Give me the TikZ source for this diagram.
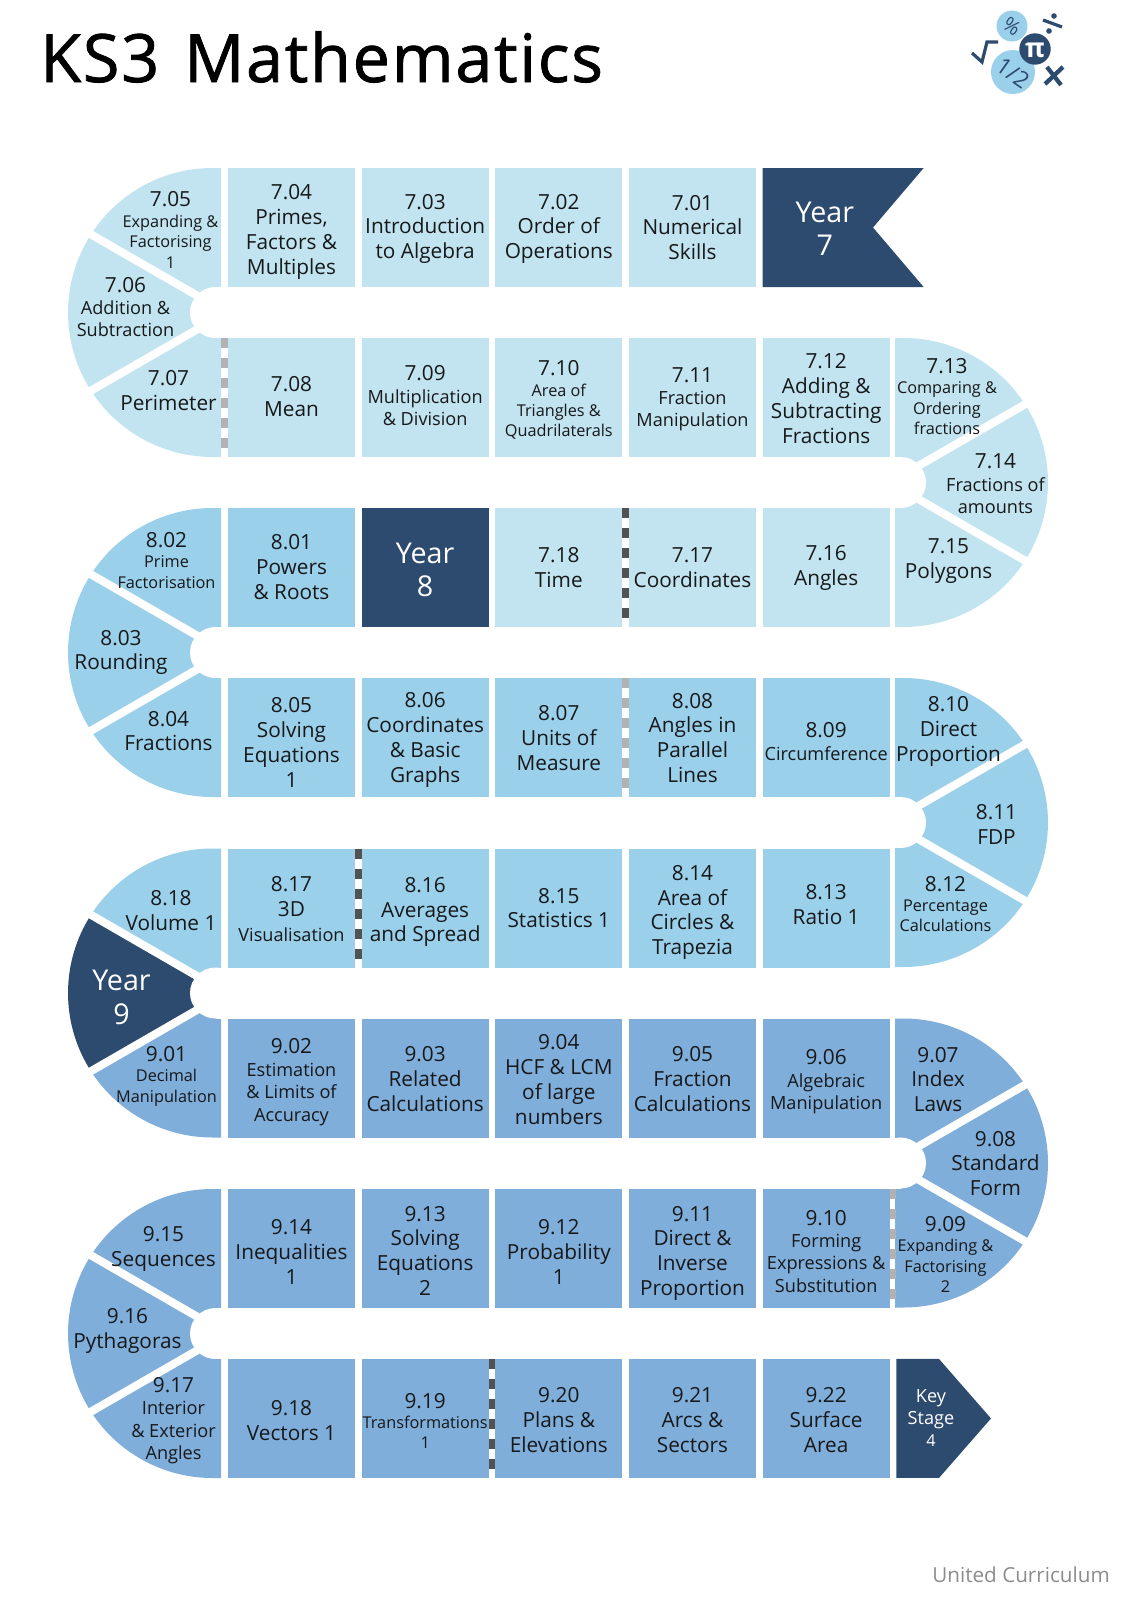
\documentclass[tikz,border=0pt]{standalone}
\usepackage{fontspec}
\setmainfont{Open Sans}
\newfontfamily\titlefont{Open Sans}[LetterSpace=2.5,RawFeature={embolden=1.2}]
\usepackage{xcolor}
\usetikzlibrary{arrows.meta,positioning,calc}
\definecolor{KSlight}{HTML}{C2E4F0}
\definecolor{KSmid}{HTML}{9BD0EB}
\definecolor{KSblue}{HTML}{80AEDA}
\definecolor{KSnavy}{HTML}{2D4A6F}
\definecolor{KSink}{HTML}{16181A}
\newcommand{\mdtxt}{\fontsize{13.6}{16.5}\selectfont}
\newcommand{\smtxt}{\fontsize{12.2}{15}\selectfont}
\newcommand{\yrtxt}{\fontsize{21.5}{25}\selectfont}
\newcommand{\mdline}{\\[-1.8pt]\mdtxt}
\newcommand{\smline}{\\[-3.3pt]\smtxt}
% pushes a box text down (first line) or up (last line)
\newcommand{\dn}[1]{\rule{0pt}{\dimexpr11.14pt+#1pt\relax}}
\newcommand{\up}[1]{\rule[-#1pt]{0pt}{#1pt}}
% #1 centre x, #2 centre y, #3 side (1 left, -1 right), #4 #5 #6 colours top to bottom
\newcommand{\pathcap}[6]{
  \begin{scope}[shift={(#1,-#2)}, xscale=#3]
    \fill[#4] (8.5,8) -- (8.5,144.5) -- (0,144.5) arc (90:147.3:144.5) -- (0,8) -- cycle;
    \fill[#5] (0,8) -- (147.3:144.5) arc (147.3:212.7:144.5) -- (0,-8) -- cycle;
    \fill[#6] (8.5,-8) -- (8.5,-144.5) -- (0,-144.5) arc (270:212.7:144.5) -- (0,-8) -- cycle;
    \draw[white, line width=6pt] (0,8) -- +(150:155);
    \draw[white, line width=6pt] (0,-8) -- +(210:155);
    \fill[white] (3,0) circle (25.5);
    \fill[white] (3,-25.5) rectangle (9,25.5);
  \end{scope}
}
\begin{document}
\begin{tikzpicture}[
    x=0.75pt, y=0.75pt,
    node distance=38.35pt and 5pt,
    box/.style={minimum width=95.25pt, minimum height=89.25pt, inner sep=0pt, outer sep=0pt, align=center, text=KSink, font=\fontsize{15.6}{18.6}\selectfont},
    lbl/.style={inner sep=0pt, align=center, text=KSink, font=\fontsize{15.6}{18.6}\selectfont},
    yr/.style={inner sep=0pt, align=center, text=white, font=\yrtxt},
    grayline/.style={draw=black!30, line width=5.2pt, dash pattern=on 7.5pt off 7.5pt},
    darkline/.style={draw=black!68, line width=5.2pt, dash pattern=on 7.5pt off 7.5pt},
    logoline/.style={draw=KSnavy, line width=2.4pt}
]
    \useasboundingbox (0,0) rectangle (1125,-1600);
    \node[anchor=west, inner sep=0pt, text=black, font=\titlefont\fontsize{50}{56}\selectfont] (title) at (40,-57) {KS3\hspace{4.5pt} Mathematics};
    \node[anchor=east, inner sep=0pt, text=black!45, font=\fontsize{15.5}{18}\selectfont] (credit) at (1110,-1575) {United Curriculum};

    % logo
    \fill[KSmid] (1012,-26) circle (15.5);
    \fill[KSmid] (1013,-72) circle (22);
    \fill[KSnavy] (1035,-49) circle (15.7);
    \node[rotate=-35, inner sep=0pt, text=KSnavy, font=\fontsize{15}{15}\selectfont] (pct) at (1012,-26) {\%};
    \node[inner sep=0pt, text=white, font=\fontsize{20}{20}\selectfont\bfseries] (pi) at (1035,-50) {π};
    \node[rotate=-35, inner sep=0pt, text=KSnavy, font=\fontsize{17}{17}\selectfont] (half) at (1013,-73) {1/2};
    \draw[logoline] (972,-53) -- (982,-62) -- (987,-42) -- (998,-42);
    \draw[logoline] (1043,-20) -- (1062,-27);
    \fill[KSnavy] (1054,-16) circle (2.8);
    \fill[KSnavy] (1049,-31) circle (2.8);
    \draw[logoline, line width=3.2pt] (1047,-67) -- (1061,-85);
    \draw[logoline, line width=3.2pt] (1063,-67) -- (1045,-84);

    % curved ends
    \pathcap{212.5}{312.5}{1}{KSlight}{KSlight}{KSlight}
    \pathcap{903.5}{482.5}{-1}{KSlight}{KSlight}{KSlight}
    \pathcap{212.5}{652.5}{1}{KSmid}{KSmid}{KSmid}
    \pathcap{903.5}{822.5}{-1}{KSmid}{KSmid}{KSmid}
    \pathcap{212.5}{993}{1}{KSmid}{KSnavy}{KSblue}
    \pathcap{903.5}{1163}{-1}{KSblue}{KSblue}{KSblue}
    \pathcap{212.5}{1333.5}{1}{KSblue}{KSblue}{KSblue}

    % row 1
    \node[box, fill=KSlight] (t704) at (291.5,-227.5) {\dn{6.9}7.04\\Primes,\\Factors \&\\Multiples};
    \node[box, fill=KSlight, right=of t704] (t703) {\dn{2.3}7.03\\Introduction\\to Algebra};
    \node[box, fill=KSlight, right=of t703] (t702) {\dn{2.3}7.02\\Order of\\Operations};
    \node[box, fill=KSlight, right=of t702] (t701) {7.01\\Numerical\\Skills};
    \node[box, right=of t701] (yr7) {};
    \fill[KSnavy] (yr7.north west) -- ([xshift=25.5pt]yr7.north east) -- ([xshift=-12.5pt]yr7.east) -- ([xshift=25.5pt]yr7.south east) -- (yr7.south west) -- cycle;
    \node[yr, xshift=-1pt, yshift=-1pt] (yr7txt) at (yr7) {Year\\7};

    % row 2
    \node[box, fill=KSlight, below=of t704] (t708) {7.08\\Mean\up{2.3}};
    \node[box, fill=KSlight, right=of t708] (t709) {7.09\mdline Multiplication\mdline \& Division\up{3}};
    \node[box, fill=KSlight, right=of t709] (t710) {\dn{3.8}7.10\smline Area of\smline Triangles \&\smline Quadrilaterals};
    \node[box, fill=KSlight, right=of t710] (t711) {\dn{2.3}7.11\mdline Fraction\mdline Manipulation};
    \node[box, fill=KSlight, right=of t711] (t712) {\dn{1.5}7.12\\Adding \&\\Subtracting\\Fractions};

    % row 3
    \node[box, fill=KSmid, below=of t708] (t801) {8.01\\Powers\\\& Roots\up{1.5}};
    \node[box, fill=KSnavy, right=of t801, text=white, font=\yrtxt] (yr8) {\rule{0pt}{19pt}Year\\8};
    \node[box, fill=KSlight, right=of yr8] (t718) {7.18\\Time};
    \node[box, fill=KSlight, right=of t718] (t717) {7.17\\Coordinates};
    \node[box, fill=KSlight, right=of t717] (t716) {7.16\\Angles};

    % row 4
    \node[box, fill=KSmid, below=of t801] (t805) {\dn{6.9}8.05\\Solving\\Equations\\1};
    \node[box, fill=KSmid, right=of t805] (t806) {\dn{3}8.06\\Coordinates\\\& Basic\\Graphs};
    \node[box, fill=KSmid, right=of t806] (t807) {8.07\\Units of\\Measure};
    \node[box, fill=KSmid, right=of t807] (t808) {8.08\\Angles in\\Parallel\\Lines};
    \node[box, fill=KSmid, right=of t808] (t809) {\dn{5.4}8.09\mdline Circumference};

    % row 5
    \node[box, fill=KSmid, below=of t805] (t817) {\dn{1.5}8.17\\3D\\\mdtxt Visualisation};
    \node[box, fill=KSmid, right=of t817] (t816) {\dn{6.1}8.16\\Averages\\and Spread};
    \node[box, fill=KSmid, right=of t816] (t815) {8.15\\Statistics 1};
    \node[box, fill=KSmid, right=of t815] (t814) {\dn{6.9}8.14\\Area of\\Circles \&\\Trapezia};
    \node[box, fill=KSmid, right=of t814] (t813) {8.13\\Ratio 1\up{5.4}};

    % row 6
    \node[box, fill=KSblue, below=of t817] (t902) {\dn{6.1}9.02\mdline Estimation\mdline \& Limits of\mdline Accuracy};
    \node[box, fill=KSblue, right=of t902] (t903) {\dn{1.5}9.03\\Related\\Calculations};
    \node[box, fill=KSblue, right=of t903] (t904) {\dn{2.3}9.04\\HCF \& LCM\\of large\\numbers};
    \node[box, fill=KSblue, right=of t904] (t905) {\dn{1.5}9.05\\Fraction\\Calculations};
    \node[box, fill=KSblue, right=of t905] (t906) {\dn{5.4}9.06\mdline Algebraic\mdline Manipulation};

    % row 7
    \node[box, fill=KSblue, below=of t902] (t914) {\dn{5.4}9.14\\Inequalities\\1};
    \node[box, fill=KSblue, right=of t914] (t913) {\dn{3.8}9.13\\Solving\\Equations\\2};
    \node[box, fill=KSblue, right=of t913] (t912) {\dn{5.4}9.12\\Probability\\1};
    \node[box, fill=KSblue, right=of t912] (t911) {\dn{7.7}9.11\\Direct \&\\Inverse\\Proportion};
    \node[box, fill=KSblue, right=of t911] (t910) {\dn{4.6}9.10\mdline Forming\mdline Expressions \&\mdline Substitution};

    % row 8
    \node[box, fill=KSblue, below=of t914] (t918) {\dn{3}9.18\\Vectors 1};
    \node[box, fill=KSblue, right=of t918] (t919) {\dn{3.8}9.19\smline\makebox[0pt]{Transformations}\smline 1};
    \node[box, fill=KSblue, right=of t919] (t920) {\dn{3}9.20\\Plans \&\\Elevations};
    \node[box, fill=KSblue, right=of t920] (t921) {\dn{3}9.21\\Arcs \&\\Sectors};
    \node[box, fill=KSblue, right=of t921] (t922) {\dn{3}9.22\\Surface\\Area};
    \node[box, minimum width=72pt, right=of t922] (ks4) {};
    \fill[KSnavy] (ks4.north west) -- ([xshift=-40pt]ks4.north east) -- ([xshift=-1pt]ks4.east) -- ([xshift=-40pt]ks4.south east) -- (ks4.south west) -- cycle;
    \node[yr, anchor=center, font=\mdtxt] (ks4txt) at (931,-1418.5) {Key\\Stage\\\smtxt 4};

    % labels on the curved ends
    \node[lbl] (t705) at (170.5,-230) {7.05\smline Expanding \&\smline Factorising\smline 1};
    \node[lbl] (t706) at (125.5,-307) {7.06\mdline Addition \&\mdline Subtraction};
    \node[lbl] (t707) at (168.5,-390.5) {7.07\\Perimeter};
    \node[lbl] (t713) at (947,-396.5) {7.13\smline Comparing \&\smline Ordering\smline fractions};
    \node[lbl] (t714) at (995.5,-484) {7.14\mdline Fractions of\mdline amounts};
    \node[lbl] (t715) at (948.5,-561) {7.15\\Polygons};
    \node[lbl] (t802) at (166.5,-560.5) {8.02\smline Prime\smline Factorisation};
    \node[lbl] (t803) at (121,-652.5) {8.03\\Rounding};
    \node[lbl] (t804) at (168.5,-731) {8.04\\Fractions};
    \node[lbl] (t810) at (948.5,-731.5) {8.10\\Direct\\Proportion};
    \node[lbl] (t811) at (996.5,-824.5) {8.11\\FDP};
    \node[lbl] (t812) at (945.5,-904) {8.12\smline Percentage\smline Calculations};
    \node[lbl] (t818) at (171,-910.5) {8.18\\Volume 1};
    \node[yr] (yr9) at (121.5,-997.5) {Year\\9};
    \node[lbl] (t901) at (166.5,-1076) {9.01\smline Decimal\smline Manipulation};
    \node[lbl] (t907) at (938,-1079.5) {9.07\\Index\\Laws};
    \node[lbl] (t908) at (995.5,-1163.5) {9.08\\Standard\\Form};
    \node[lbl] (t909) at (945.5,-1254.5) {9.09\smline Expanding \&\smline Factorising\smline 2};
    \node[lbl] (t915) at (163.5,-1249) {9.15\\Sequences};
    \node[lbl] (t916) at (127.5,-1331) {9.16\\Pythagoras};
    \node[lbl] (t917) at (173.5,-1420.5) {9.17\mdline Interior\mdline \& Exterior\mdline Angles};

    % dashed markers
    \draw[grayline] ([xshift=-2.5pt]t708.north west) -- ([xshift=-2.5pt]t708.south west);
    \draw[darkline] ([xshift=-2.5pt]t717.north west) -- ([xshift=-2.5pt]t717.south west);
    \draw[grayline] ([xshift=-2.5pt]t808.north west) -- ([xshift=-2.5pt]t808.south west);
    \draw[darkline] ([xshift=-2.5pt]t816.north west) -- ([xshift=-2.5pt]t816.south west);
    \draw[grayline] ([xshift=2.5pt]t910.north east) -- ([xshift=2.5pt]t910.south east);
    \draw[darkline] ([xshift=-2.5pt]t920.north west) -- ([xshift=-2.5pt]t920.south west);
\end{tikzpicture}
\end{document}
